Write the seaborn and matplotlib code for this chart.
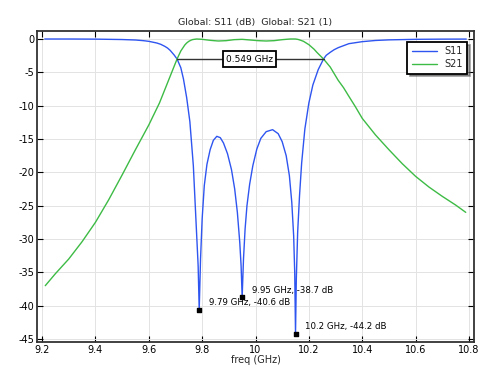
import matplotlib
matplotlib.use("Agg")
import matplotlib.pyplot as plt
import seaborn as sns
import pandas as pd

# ---- data ----
s11_freq = [9.21, 9.30, 9.40, 9.50, 9.55, 9.58, 9.60, 9.63, 9.645, 9.66, 9.67, 9.68, 9.695,
            9.706, 9.72, 9.73, 9.742, 9.754, 9.767, 9.779, 9.785, 9.789, 9.794, 9.800,
            9.808, 9.818, 9.83, 9.842, 9.855, 9.868, 9.88, 9.895, 9.91, 9.922, 9.932,
            9.941, 9.946, 9.950, 9.955, 9.961, 9.968, 9.978, 9.99, 10.005, 10.02, 10.04,
            10.064, 10.085, 10.10, 10.115, 10.127, 10.136, 10.143, 10.147, 10.150, 10.153,
            10.158, 10.165, 10.173, 10.185, 10.20, 10.215, 10.235, 10.255, 10.265, 10.28,
            10.295, 10.31, 10.33, 10.35, 10.375, 10.40, 10.45, 10.50, 10.60, 10.70, 10.79]
s11_db = [0.0, 0.0, -0.02, -0.08, -0.15, -0.25, -0.35, -0.6, -0.8, -1.1, -1.35, -1.7, -2.4,
          -3.0, -4.3, -6.0, -8.8, -12.4, -19.0, -29.0, -34.0, -40.6, -33.0, -27.0,
          -22.0, -18.8, -16.6, -15.2, -14.6, -14.8, -15.6, -17.2, -19.6, -22.5, -26.0,
          -30.5, -34.0, -38.7, -33.0, -28.5, -25.0, -21.8, -19.0, -16.5, -14.9, -13.9,
          -13.6, -14.2, -15.4, -17.5, -20.5, -24.5, -29.5, -35.0, -44.2, -36.0,
          -29.0, -23.5, -18.6, -13.5, -9.6, -6.9, -4.6, -3.0, -2.45, -2.0,
          -1.6, -1.3, -1.0, -0.7, -0.55, -0.4, -0.22, -0.13, -0.05, -0.02, -0.01]

s21_freq = [9.212, 9.25, 9.30, 9.35, 9.40, 9.45, 9.50, 9.55, 9.60, 9.64, 9.67, 9.69, 9.706,
            9.72, 9.73, 9.735, 9.742, 9.75, 9.757, 9.765, 9.78, 9.80, 9.83, 9.86, 9.89,
            9.92, 9.95, 9.98, 10.01, 10.04, 10.07, 10.10, 10.13, 10.15, 10.16, 10.17, 10.18,
            10.19, 10.20, 10.21, 10.22, 10.23, 10.24, 10.255, 10.28, 10.31, 10.33, 10.35,
            10.375, 10.40, 10.45, 10.50, 10.55, 10.60, 10.65, 10.70, 10.75, 10.788]
s21_db = [-37.0, -35.2, -33.0, -30.4, -27.5, -24.1, -20.4, -16.6, -12.9, -9.6, -6.6, -4.6,
          -3.0, -1.8, -1.2, -0.9, -0.6, -0.35, -0.2, -0.08, 0.0, -0.05, -0.2, -0.3, -0.25,
          -0.1, -0.05, -0.15, -0.25, -0.3, -0.25, -0.1, 0.0, 0.0, -0.07, -0.2, -0.35,
          -0.6, -0.85, -1.2, -1.55, -2.0, -2.4, -3.0, -4.2, -6.2, -7.3, -8.6,
          -10.2, -11.9, -14.4, -16.6, -18.7, -20.6, -22.2, -23.6, -24.9, -26.0]

dip_freq = [9.789, 9.950, 10.150]
dip_db = [-40.6, -38.7, -44.2]
dip_labels = ["9.79 GHz, -40.6 dB", "9.95 GHz, -38.7 dB", "10.2 GHz, -44.2 dB"]

bw_lo, bw_hi, bw_level = 9.706, 10.255, -3.0
bw_label = "0.549 GHz"

title = "Global: S11 (dB)  Global: S21 (1)"
xlabel = "freq (GHz)"
xticks = [9.2, 9.4, 9.6, 9.8, 10.0, 10.2, 10.4, 10.6, 10.8]
xtick_labels = ["9.2", "9.4", "9.6", "9.8", "10", "10.2", "10.4", "10.6", "10.8"]
yticks = [0, -5, -10, -15, -20, -25, -30, -35, -40, -45]

# ---- plotting ----
sns.set_theme(style="white")
plt.rcParams["font.family"] = ["DejaVu Sans"]
plt.rcParams["axes.unicode_minus"] = False

blue = "#2f55f0"
green = "#3dbb45"

fig = plt.figure(figsize=(4.79, 3.66), dpi=100)
ax = fig.add_axes([37 / 479, 1 - 342 / 366, (474 - 37) / 479, (342 - 31) / 366])

df11 = pd.DataFrame({"freq": s11_freq, "val": s11_db})
df21 = pd.DataFrame({"freq": s21_freq, "val": s21_db})
sns.lineplot(data=df11, x="freq", y="val", ax=ax, color=blue, lw=1.0, label="S11", sort=False)
sns.lineplot(data=df21, x="freq", y="val", ax=ax, color=green, lw=1.0, label="S21", sort=False)

# bandwidth annotation
ax.plot([bw_lo, bw_hi], [bw_level, bw_level], color="#333333", lw=1.0, zorder=4)
ax.text((bw_lo + bw_hi) / 2 - 0.002, bw_level, bw_label, ha="center", va="center",
        fontsize=6.5, color="black", zorder=6,
        bbox=dict(boxstyle="square,pad=0.35", fc="white", ec="black", lw=1.3))

# dip markers and labels
ax.scatter(dip_freq, dip_db, marker="s", s=6, color="black", zorder=6)
for f, v, lab in zip(dip_freq, dip_db, dip_labels):
    ax.annotate(lab, (f, v), xytext=(7, 5), textcoords="offset points",
                fontsize=6.2, color="black", va="center", ha="left")

ax.set_xlim(9.181, 10.819)
ax.set_ylim(-45.45, 1.2)
ax.set_xticks(xticks)
ax.set_xticklabels(xtick_labels)
ax.set_yticks(yticks)
ax.tick_params(axis="both", which="both", direction="in", length=4, width=0.8,
               labelsize=7, top=True, right=True, bottom=True, left=True, colors="black",
               pad=2)
ax.grid(True, color="#e3e3e3", lw=0.7)
for sp in ax.spines.values():
    sp.set_color("#333333")
    sp.set_linewidth(1.3)

ax.set_xlabel(xlabel, fontsize=7, labelpad=0)
ax.set_ylabel("")
ax.set_title(title, fontsize=6.8, pad=4)

leg = ax.legend(loc="upper right", bbox_to_anchor=(0.985, 0.965), fontsize=7,
                frameon=True, fancybox=False, shadow=True, borderpad=0.45,
                handlelength=2.6, labelspacing=0.3, borderaxespad=0)
leg.get_frame().set_edgecolor("black")
leg.get_frame().set_linewidth(1.3)

fig.savefig("out.png", dpi=100)
